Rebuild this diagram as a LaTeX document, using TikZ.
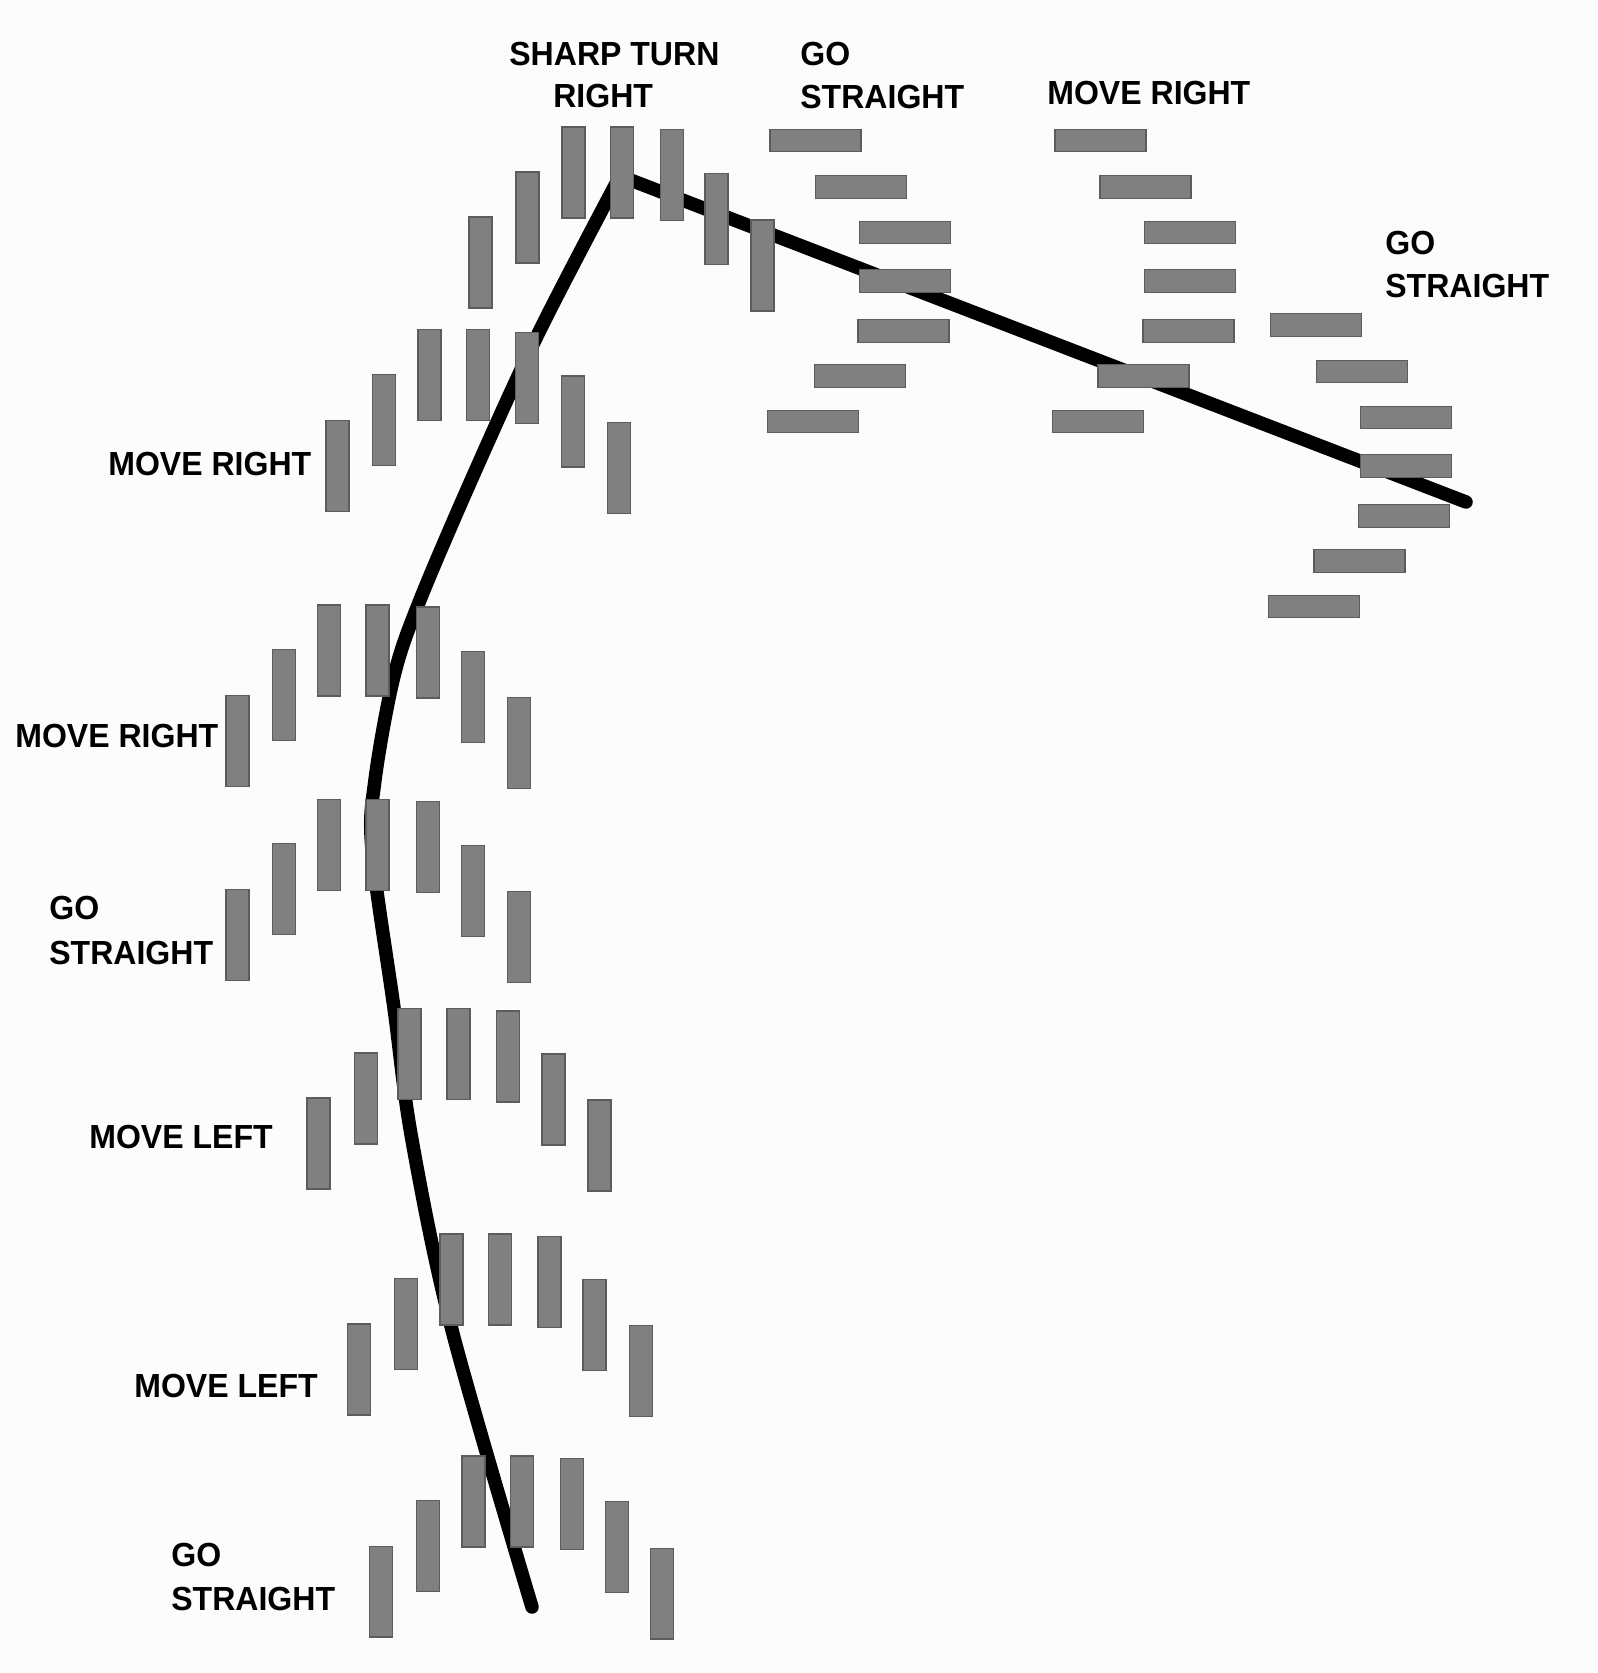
\documentclass[tikz,border=0pt]{standalone}
\usepackage{fontspec}
\newfontfamily\lblfont[FakeStretch=0.96]{Liberation Sans}
\definecolor{barfill}{RGB}{128,128,128}
\definecolor{baredge}{RGB}{92,92,92}
\definecolor{paper}{RGB}{252,252,252}
\begin{document}
\begin{tikzpicture}[x=0.02cm,y=-0.02cm,
  vbar/.style={draw=baredge, fill=barfill, line width=0.6pt, minimum width=0.46cm, minimum height=1.82cm, inner sep=0pt, outer sep=0pt},
  hbar/.style={draw=baredge, fill=barfill, line width=0.6pt, minimum width=1.82cm, minimum height=0.45cm, inner sep=0pt, outer sep=0pt},
  lbl/.style={font=\lblfont\bfseries\fontsize{19}{23}\selectfont, inner sep=0pt, anchor=base west},
  track/.style={line width=0.27cm, line cap=round, line join=round}]
\fill[paper] (0,0) rectangle (1597,1673);
\useasboundingbox (0,0) rectangle (1597,1673);

% path of the vehicle
\coordinate (start) at (532,1607);
\coordinate (c1) at (452,1330);
\coordinate (c2) at (412,1140);
\coordinate (c3) at (394,1008);
\coordinate (c4) at (372,850);
\coordinate (c5) at (375,780);
\coordinate (c6) at (394,676);
\coordinate (c7) at (420,600);
\coordinate (c8) at (477,467);
\coordinate (c9) at (540,330);
\coordinate (peak) at (620,176);
\coordinate (end) at (1466,502);
\draw[track] plot[smooth, tension=0.55] coordinates {(start) (c1) (c2) (c3) (c4) (c5) (c6) (c7) (c8) (c9) (peak)} -- (end);

% vertical bar groups
\foreach \x/\y [count=\i] in {480.5/262.5,527.5/217.5,573.5/172.5,622/172.5,672/175,716.5/219,762.5/265.5}
  \node[vbar] (a\i) at (\x,\y) {};
\foreach \x/\y [count=\i] in {337.5/466,384/420,429.5/375,478/375,527/378,573/421.5,619/468}
  \node[vbar] (b\i) at (\x,\y) {};
\foreach \x/\y [count=\i] in {237.5/741,284/695,329/650.5,377.5/650.5,428/652.5,473/697,519/743}
  \node[vbar] (c\i) at (\x,\y) {};
\foreach \x/\y [count=\i] in {237.5/935,284/889,329/845,377.5/845,428/847,473/891,519/937}
  \node[vbar] (d\i) at (\x,\y) {};
\foreach \x/\y [count=\i] in {318.5/1143.5,366/1098.5,409.5/1054,458.5/1054,508/1056.5,553.5/1099.5,599.5/1145.5}
  \node[vbar] (e\i) at (\x,\y) {};
\foreach \x/\y [count=\i] in {359/1369.5,406/1324,451.5/1279.5,500/1279.5,549.5/1282,594.5/1325,641/1371}
  \node[vbar] (f\i) at (\x,\y) {};
\foreach \x/\y [count=\i] in {381/1591.5,428/1546,473.5/1501.5,522/1501.5,572/1504,617/1547,662/1593.5}
  \node[vbar] (g\i) at (\x,\y) {};

% horizontal bar groups
\foreach \x/\y [count=\i] in {815.5/140.5,861/187,905/232.5,905/281,903.5/331,860/376,813/421.5}
  \node[hbar] (h\i) at (\x,\y) {};
\foreach \x/\y [count=\i] in {1100.5/140.5,1145.5/187,1190/232.5,1190/281,1188.5/331,1143.5/376,1098/421.5}
  \node[hbar] (k\i) at (\x,\y) {};
\foreach \x/\y [count=\i] in {1316/325,1362/371.5,1406/417.5,1406/466,1404/516,1359.5/561,1314/606.5}
  \node[hbar] (m\i) at (\x,\y) {};

% labels
\node[lbl] (t1a) at (509,66) {SHARP TURN};
\node[lbl] (t1b) at (553,108) {RIGHT};
\node[lbl] (t2a) at (800,66) {GO};
\node[lbl] (t2b) at (800,109) {STRAIGHT};
\node[lbl] (t3) at (1047,105) {MOVE RIGHT};
\node[lbl] (t4a) at (1385,254) {GO};
\node[lbl] (t4b) at (1385,297) {STRAIGHT};
\node[lbl] (t5) at (108,475) {MOVE RIGHT};
\node[lbl] (t6) at (15,747) {MOVE RIGHT};
\node[lbl] (t7a) at (49,919) {GO};
\node[lbl] (t7b) at (49,964) {STRAIGHT};
\node[lbl] (t8) at (89,1148) {MOVE LEFT};
\node[lbl] (t9) at (134,1397) {MOVE LEFT};
\node[lbl] (t10a) at (171,1566) {GO};
\node[lbl] (t10b) at (171,1610) {STRAIGHT};
\end{tikzpicture}
\end{document}
